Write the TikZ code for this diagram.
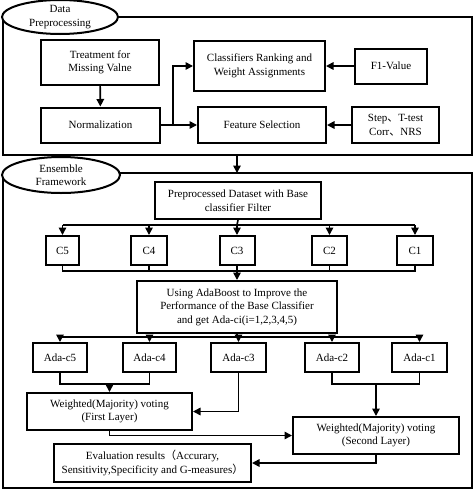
\documentclass[tikz,border=0pt]{standalone}
\usepackage{fontspec}
\setmainfont{Liberation Serif}
\newfontfamily\cjk{Noto Sans CJK SC}
\usetikzlibrary{arrows.meta,shapes.geometric}
\tikzset{
  bx/.style={draw,line width=2pt,align=center,inner sep=1pt,font=\rmfamily\fontsize{11}{13.5}\selectfont},
  frm/.style={draw,line width=2pt},
  lbl/.style={draw,ellipse,line width=2pt,fill=white,align=center,inner sep=0pt,font=\rmfamily\fontsize{11}{13.5}\selectfont},
  ln/.style={line width=1.6pt},
  arr/.style={line width=1.6pt,-{Triangle[length=7.5pt,width=7.5pt]}}
}
\begin{document}
\begin{tikzpicture}[x=1pt,y=-1pt]
\useasboundingbox[fill=white] (0,0) rectangle (474,490);
% frames
\draw[frm] (3,17) rectangle (472,155);
\draw[frm] (3,173) rectangle (472,488);
\node[lbl,minimum width=116pt,minimum height=34pt] (lab1) at (60,17) {Data\\Preprocessing};
\node[lbl,minimum width=118pt,minimum height=36pt] (lab2) at (61,175) {Ensemble\\Framework};
% data preprocessing
\node[bx,minimum width=118pt,minimum height=45pt] (treat) at (100,62.5) {Treatment for\\Missing Valne};
\node[bx,minimum width=119pt,minimum height=35pt] (norm) at (100.5,125) {Normalization};
\node[bx,minimum width=131pt,minimum height=50pt] (rank) at (259.5,66) {Classifiers Ranking and\\Weight Assignments};
\node[bx,minimum width=72pt,minimum height=35pt] (f1) at (391,66) {F1-Value};
\node[bx,minimum width=128pt,minimum height=36pt] (fs) at (262,125) {Feature Selection};
\node[bx,minimum width=87pt,minimum height=36pt] (step) at (395.5,125) {Step{\cjk 、}T-test\\Corr{\cjk 、}NRS};
\draw[arr] (treat) -- (norm);
\coordinate (split) at (173,125);
\draw[ln] (norm.east) -- (split);
\draw[arr] (split) |- (rank.west);
\draw[arr] (split) -- (fs.west);
\draw[arr] (f1) -- (rank);
\draw[arr] (step) -- (fs);
\coordinate (out1) at (237,155);
\coordinate (in2) at (237,173);
\draw[arr] (out1) -- (in2);
% ensemble
\node[bx,minimum width=166pt,minimum height=37pt] (pre) at (238,200.5) {Preprocessed Dataset with Base\\classifier Filter};
\node[bx,minimum width=33pt,minimum height=29pt] (C5) at (62.5,250.5) {C5};
\node[bx,minimum width=36pt,minimum height=29pt] (C4) at (149,250.5) {C4};
\node[bx,minimum width=35pt,minimum height=29pt] (C3) at (237,250.5) {C3};
\node[bx,minimum width=35pt,minimum height=29pt] (C2) at (329.5,250.5) {C2};
\node[bx,minimum width=36pt,minimum height=29pt] (C1) at (415,250.5) {C1};
\coordinate (bus1) at (237,225);
\draw[ln] (pre.south) -- (bus1);
\draw[ln] (C5.north |- bus1) -- (C1.north |- bus1);
\foreach \c in {C1,C2,C3,C4,C5} \draw[arr] (\c.north |- bus1) -- (\c.north);
\node[bx,minimum width=200pt,minimum height=52pt] (ada) at (237,307) {Using AdaBoost to Improve the\\Performance of the Base Classifier\\and get Ada-ci(i=1,2,3,4,5)};
\coordinate (bus2) at (237,271);
\draw[ln] (C5.south) -- (C5.south |- bus2) -- (C1.south |- bus2) -- (C1.south);
\draw[ln] (C4.south) -- (C4.south |- bus2);
\draw[ln] (C2.south) -- (C2.south |- bus2);
\draw[arr] (C3.south) -- (ada.north);
\node[bx,minimum width=54pt,minimum height=29pt] (A5) at (60,357.5) {Ada-c5};
\node[bx,minimum width=53pt,minimum height=29pt] (A4) at (149.5,357.5) {Ada-c4};
\node[bx,minimum width=55pt,minimum height=29pt] (A3) at (238.5,357.5) {Ada-c3};
\node[bx,minimum width=54pt,minimum height=29pt] (A2) at (332,357.5) {Ada-c2};
\node[bx,minimum width=55pt,minimum height=29pt] (A1) at (419.5,357.5) {Ada-c1};
\coordinate (bus3) at (237,337);
\draw[ln] (ada.south) -- (bus3);
\draw[ln] (A5.north |- bus3) -- (A1.north |- bus3);
\foreach \c in {A1,A2,A3,A4,A5} \draw[arr] (\c.north |- bus3) -- (\c.north);
\node[bx,minimum width=165pt,minimum height=37pt] (first) at (109.5,411.5) {Weighted(Majority) voting\\(First Layer)};
\node[bx,minimum width=166pt,minimum height=37pt] (second) at (376,435.5) {Weighted(Majority) voting\\(Second Layer)};
\node[bx,minimum width=197pt,minimum height=38pt] (eval) at (152.5,463) {Evaluation results{\cjk （}Accurary,\\Sensitivity,Specificity and G-measures{\cjk ）}};
\coordinate (j1) at (109.5,384);
\coordinate (j2) at (376,384);
\draw[ln] (A5.south) |- (j1) -| (A4.south);
\draw[arr] (j1) -- (first.north);
\draw[ln] (A2.south) |- (j2) -| (A1.south);
\draw[arr] (j2) -- (second.north);
\draw[arr] (A3.south) |- (first.east);
\draw[arr] (first.south) |- (second.west);
\draw[arr] (second.south) |- (eval.east);
\end{tikzpicture}
\end{document}
